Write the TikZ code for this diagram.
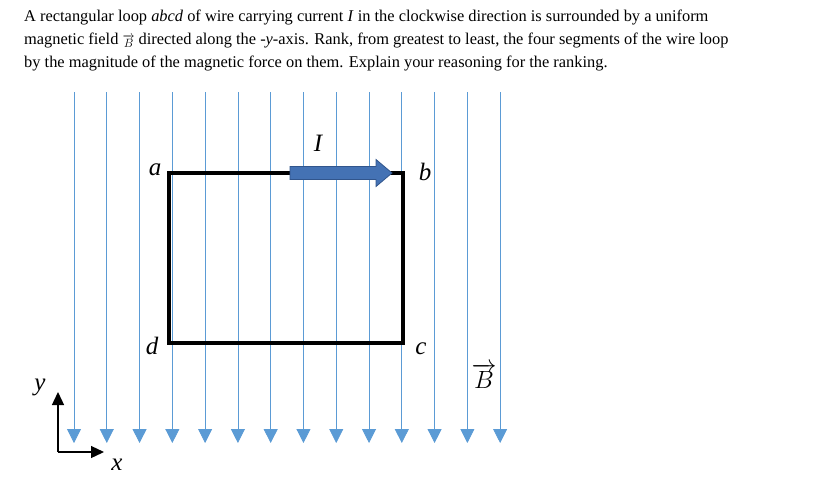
\documentclass[tikz,border=0pt]{standalone}
\usepackage{fontspec}
\setmainfont{Liberation Serif}
\usetikzlibrary{arrows.meta}
\begin{document}
\begin{tikzpicture}[x=1pt,y=-1pt,
  txt/.style={anchor=west,inner sep=0pt,font=\fontsize{16.4}{19}\selectfont},
  lbl/.style={inner sep=0pt,font=\fontsize{25}{27}\selectfont\itshape},
  field/.style={draw={rgb,255:red,91;green,155;blue,213},line width=0.8pt,-{Triangle[width=14pt,length=14pt]}},
  axis/.style={line width=1.3pt,-{Triangle[width=12pt,length=13pt]}}]
\useasboundingbox (0,0) rectangle (824,483);
\fill[white] (0,0) rectangle (824,483);
\node[txt] (t1) at (24,17) {A rectangular loop \textit{abcd} of wire carrying current \textit{I} in the clockwise direction is surrounded by a uniform};
\node[txt] (t2) at (24,40) {magnetic field \raisebox{-3pt}{\fontsize{12}{12}\selectfont$\overrightarrow{B}$} directed along the -\textit{y}-axis. Rank, from greatest to least, the four segments of the wire loop};
\node[txt] (t3) at (24,63) {by the magnitude of the magnetic force on them. Explain your reasoning for the ranking.};
\foreach \i in {0,...,13}{
  \coordinate (f\i s) at (74+32.78*\i,92);
  \coordinate (f\i e) at (74+32.78*\i,443);
  \draw[field] (f\i s) -- (f\i e);
}
\coordinate (A) at (169,173);
\coordinate (B) at (403,173);
\coordinate (C) at (403,343);
\coordinate (D) at (169,343);
\draw[line width=4.5pt,line join=miter] (A) -- (B) -- (C) -- (D) -- cycle;
\coordinate (cs) at (290,173);
\draw[fill={rgb,255:red,68;green,114;blue,180},draw={rgb,255:red,49;green,85;blue,140},line width=0.8pt]
  (cs) ++(0,-6.5) -- ++(86,0) -- ++(0,-7) -- ++(16,13.5) -- ++(-16,13.5) -- ++(0,-7) -- ++(-86,0) -- cycle;
\node[lbl] (la) at (155,170) {a};
\node[lbl] (lb) at (425,172) {b};
\node[lbl] (lc) at (421,349) {c};
\node[lbl] (ld) at (152,346) {d};
\node[lbl] (lI) at (318,143) {I};
\node[inner sep=0pt,font=\fontsize{24}{26}\selectfont] (lB) at (484,376) {$\overrightarrow{B}$};
\coordinate (O) at (58,452);
\coordinate (Y) at (58,392);
\coordinate (X) at (104,452);
\draw[axis] (O) -- (Y);
\draw[axis] (O) -- (X);
\node[lbl] (ly) at (40,387) {y};
\node[lbl] (lx) at (117,465) {x};
\end{tikzpicture}
\end{document}
